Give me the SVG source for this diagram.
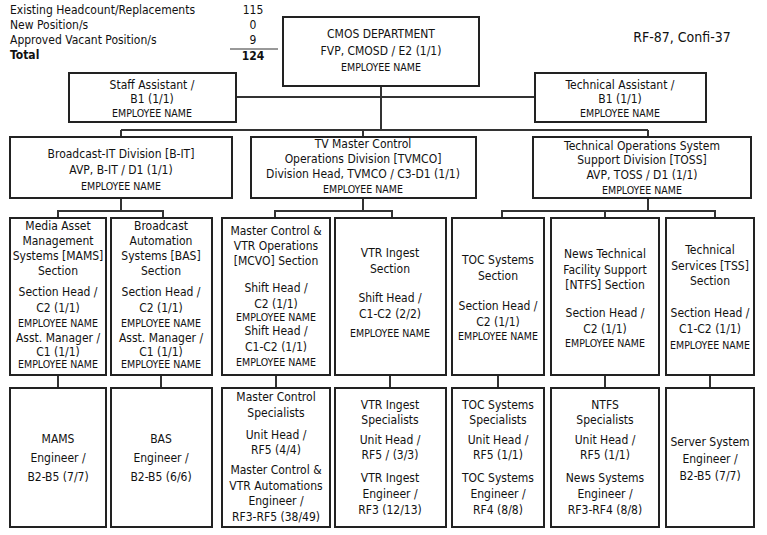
<svg xmlns="http://www.w3.org/2000/svg" width="767" height="535" viewBox="0 0 767 535">
<style>
rect{fill:#fff;stroke:#222;stroke-width:2}
.c line,.c path{stroke:#333;stroke-width:2;fill:none}
text{font-family:"DejaVu Sans Condensed","Liberation Sans",sans-serif;font-size:12px;fill:#111;text-anchor:middle}
.s{font-size:10.5px}
.l{text-anchor:start}
</style>
<rect x="0" y="0" width="767" height="535" style="stroke:none"/>
<g id="legend">
<text class="l" x="10" y="14">Existing Headcount/Replacements</text>
<text class="l" x="10" y="29">New Position/s</text>
<text class="l" x="10" y="44">Approved Vacant Position/s</text>
<text class="l" x="10" y="59" font-weight="bold">Total</text>
<text x="253" y="14">115</text><text x="253" y="29">0</text><text x="253" y="44">9</text>
<text x="253" y="60" font-weight="bold">124</text>
<line x1="230" y1="49" x2="278" y2="49" stroke="#333" stroke-width="1"/>
<text x="682" y="42" style="font-size:14px">RF-87, Confi-37</text>
</g>
<g class="c" id="connectors">
<line x1="381" y1="86" x2="381" y2="130"/>
<line x1="236" y1="97" x2="535" y2="97"/>
<line x1="121" y1="130" x2="648" y2="130"/>
<line x1="121" y1="130" x2="121" y2="137"/><line x1="363" y1="130" x2="363" y2="137"/><line x1="648" y1="130" x2="648" y2="137"/>
<path d="M121 198V211M58 218V211H163V218"/>
<path d="M363 198V211M275 218V211H392V218"/>
<path d="M648 198V211M502 218V211H715V218M605 211V218"/>
<line x1="58" y1="375" x2="58" y2="388"/><line x1="161" y1="375" x2="161" y2="388"/>
<line x1="276" y1="375" x2="276" y2="388"/><line x1="390" y1="375" x2="390" y2="388"/>
<line x1="498" y1="375" x2="498" y2="388"/><line x1="605" y1="375" x2="605" y2="388"/>
<line x1="710" y1="375" x2="710" y2="388"/>
</g>
<g id="cmos"><rect x="283" y="17" width="196" height="69"/>
<text x="381" y="38">CMOS DEPARTMENT</text><text x="381" y="55">FVP, CMOSD / E2 (1/1)</text><text class="s" x="381" y="71">EMPLOYEE NAME</text></g>
<g id="staff"><rect x="69" y="73" width="167" height="49"/>
<text x="152" y="89">Staff Assistant /</text><text x="152" y="103">B1 (1/1)</text><text class="s" x="152" y="117">EMPLOYEE NAME</text></g>
<g id="tech"><rect x="535" y="73" width="171" height="49"/>
<text x="620" y="89">Technical Assistant /</text><text x="620" y="103">B1 (1/1)</text><text class="s" x="620" y="117">EMPLOYEE NAME</text></g>
<g id="bit"><rect x="10" y="137" width="222" height="61"/>
<text x="121" y="158">Broadcast-IT Division [B-IT]</text><text x="121" y="174">AVP, B-IT / D1 (1/1)</text><text class="s" x="121" y="190">EMPLOYEE NAME</text></g>
<g id="tvmco"><rect x="251" y="137" width="225" height="61"/>
<text x="363" y="148">TV Master Control</text><text x="363" y="163">Operations Division [TVMCO]</text><text x="363" y="178">Division Head, TVMCO / C3-D1 (1/1)</text><text class="s" x="363" y="193">EMPLOYEE NAME</text></g>
<g id="toss"><rect x="533" y="137" width="218" height="61"/>
<text x="642" y="150">Technical Operations System</text><text x="642" y="164">Support Division [TOSS]</text><text x="642" y="179">AVP, TOSS / D1 (1/1)</text><text class="s" x="642" y="194">EMPLOYEE NAME</text></g>
<g id="mams"><rect x="10" y="218" width="96" height="157"/>
<text x="58" y="230">Media Asset</text><text x="58" y="245">Management</text><text x="58" y="260">Systems [MAMS]</text><text x="58" y="275">Section</text>
<text x="58" y="296">Section Head /</text><text x="58" y="312">C2 (1/1)</text><text class="s" x="58" y="327">EMPLOYEE NAME</text>
<text x="58" y="342">Asst. Manager /</text><text x="58" y="356">C1 (1/1)</text><text class="s" x="58" y="368">EMPLOYEE NAME</text></g>
<g id="bas"><rect x="111" y="218" width="101" height="157"/>
<text x="161" y="230">Broadcast</text><text x="161" y="245">Automation</text><text x="161" y="260">Systems [BAS]</text><text x="161" y="275">Section</text>
<text x="161" y="296">Section Head /</text><text x="161" y="312">C2 (1/1)</text><text class="s" x="161" y="327">EMPLOYEE NAME</text>
<text x="161" y="342">Asst. Manager /</text><text x="161" y="356">C1 (1/1)</text><text class="s" x="161" y="368">EMPLOYEE NAME</text></g>
<g id="mcvo"><rect x="222" y="218" width="108" height="157"/>
<text x="276" y="235">Master Control &amp;</text><text x="276" y="250">VTR Operations</text><text x="276" y="265">[MCVO] Section</text>
<text x="276" y="292">Shift Head  /</text><text x="276" y="308">C2 (1/1)</text><text class="s" x="276" y="321">EMPLOYEE NAME</text>
<text x="276" y="335">Shift Head  /</text><text x="276" y="351">C1-C2 (1/1)</text><text class="s" x="276" y="366">EMPLOYEE NAME</text></g>
<g id="vtr"><rect x="335" y="218" width="111" height="157"/>
<text x="390" y="257">VTR Ingest</text><text x="390" y="273">Section</text>
<text x="390" y="302">Shift Head /</text><text x="390" y="318">C1-C2 (2/2)</text><text class="s" x="390" y="337">EMPLOYEE NAME</text></g>
<g id="toc"><rect x="452" y="218" width="92" height="157"/>
<text x="498" y="264">TOC Systems</text><text x="498" y="280">Section</text>
<text x="498" y="310">Section Head /</text><text x="498" y="326">C2 (1/1)</text><text class="s" x="498" y="340">EMPLOYEE NAME</text></g>
<g id="ntfs"><rect x="551" y="218" width="108" height="157"/>
<text x="605" y="258">News Technical</text><text x="605" y="274">Facility Support</text><text x="605" y="289">[NTFS] Section</text>
<text x="605" y="317">Section Head /</text><text x="605" y="333">C2 (1/1)</text><text class="s" x="605" y="347">EMPLOYEE NAME</text></g>
<g id="tss"><rect x="666" y="218" width="88" height="157"/>
<text x="710" y="254">Technical</text><text x="710" y="270">Services [TSS]</text><text x="710" y="285">Section</text>
<text x="710" y="317">Section Head /</text><text x="710" y="333">C1-C2 (1/1)</text><text class="s" x="710" y="349">EMPLOYEE NAME</text></g>
<g id="mamse"><rect x="10" y="388" width="96" height="139"/>
<text x="58" y="443">MAMS</text><text x="58" y="462">Engineer /</text><text x="58" y="481">B2-B5 (7/7)</text></g>
<g id="base"><rect x="111" y="388" width="101" height="139"/>
<text x="161" y="443">BAS</text><text x="161" y="462">Engineer /</text><text x="161" y="481">B2-B5 (6/6)</text></g>
<g id="mcs"><rect x="222" y="388" width="108" height="139"/>
<text x="276" y="401">Master Control</text><text x="276" y="417">Specialists</text><text x="276" y="439">Unit Head /</text><text x="276" y="454">RF5 (4/4)</text>
<text x="276" y="474">Master Control &amp;</text><text x="276" y="490">VTR Automations</text><text x="276" y="505">Engineer /</text><text x="276" y="521">RF3-RF5 (38/49)</text></g>
<g id="vtrs"><rect x="335" y="388" width="111" height="139"/>
<text x="390" y="409">VTR Ingest</text><text x="390" y="424">Specialists</text><text x="390" y="444">Unit Head /</text><text x="390" y="459">RF5 / (3/3)</text>
<text x="390" y="482">VTR Ingest</text><text x="390" y="498">Engineer /</text><text x="390" y="514">RF3 (12/13)</text></g>
<g id="tocs"><rect x="452" y="388" width="92" height="139"/>
<text x="498" y="409">TOC Systems</text><text x="498" y="424">Specialists</text><text x="498" y="444">Unit Head /</text><text x="498" y="459">RF5  (1/1)</text>
<text x="498" y="482">TOC Systems</text><text x="498" y="498">Engineer /</text><text x="498" y="514">RF4 (8/8)</text></g>
<g id="ntfss"><rect x="551" y="388" width="108" height="139"/>
<text x="605" y="409">NTFS</text><text x="605" y="424">Specialists</text><text x="605" y="444">Unit Head /</text><text x="605" y="459">RF5 (1/1)</text>
<text x="605" y="482">News Systems</text><text x="605" y="498">Engineer /</text><text x="605" y="514">RF3-RF4 (8/8)</text></g>
<g id="tsse"><rect x="666" y="388" width="88" height="139"/>
<text x="710" y="446">Server System</text><text x="710" y="463">Engineer /</text><text x="710" y="480">B2-B5 (7/7)</text></g>
</svg>
